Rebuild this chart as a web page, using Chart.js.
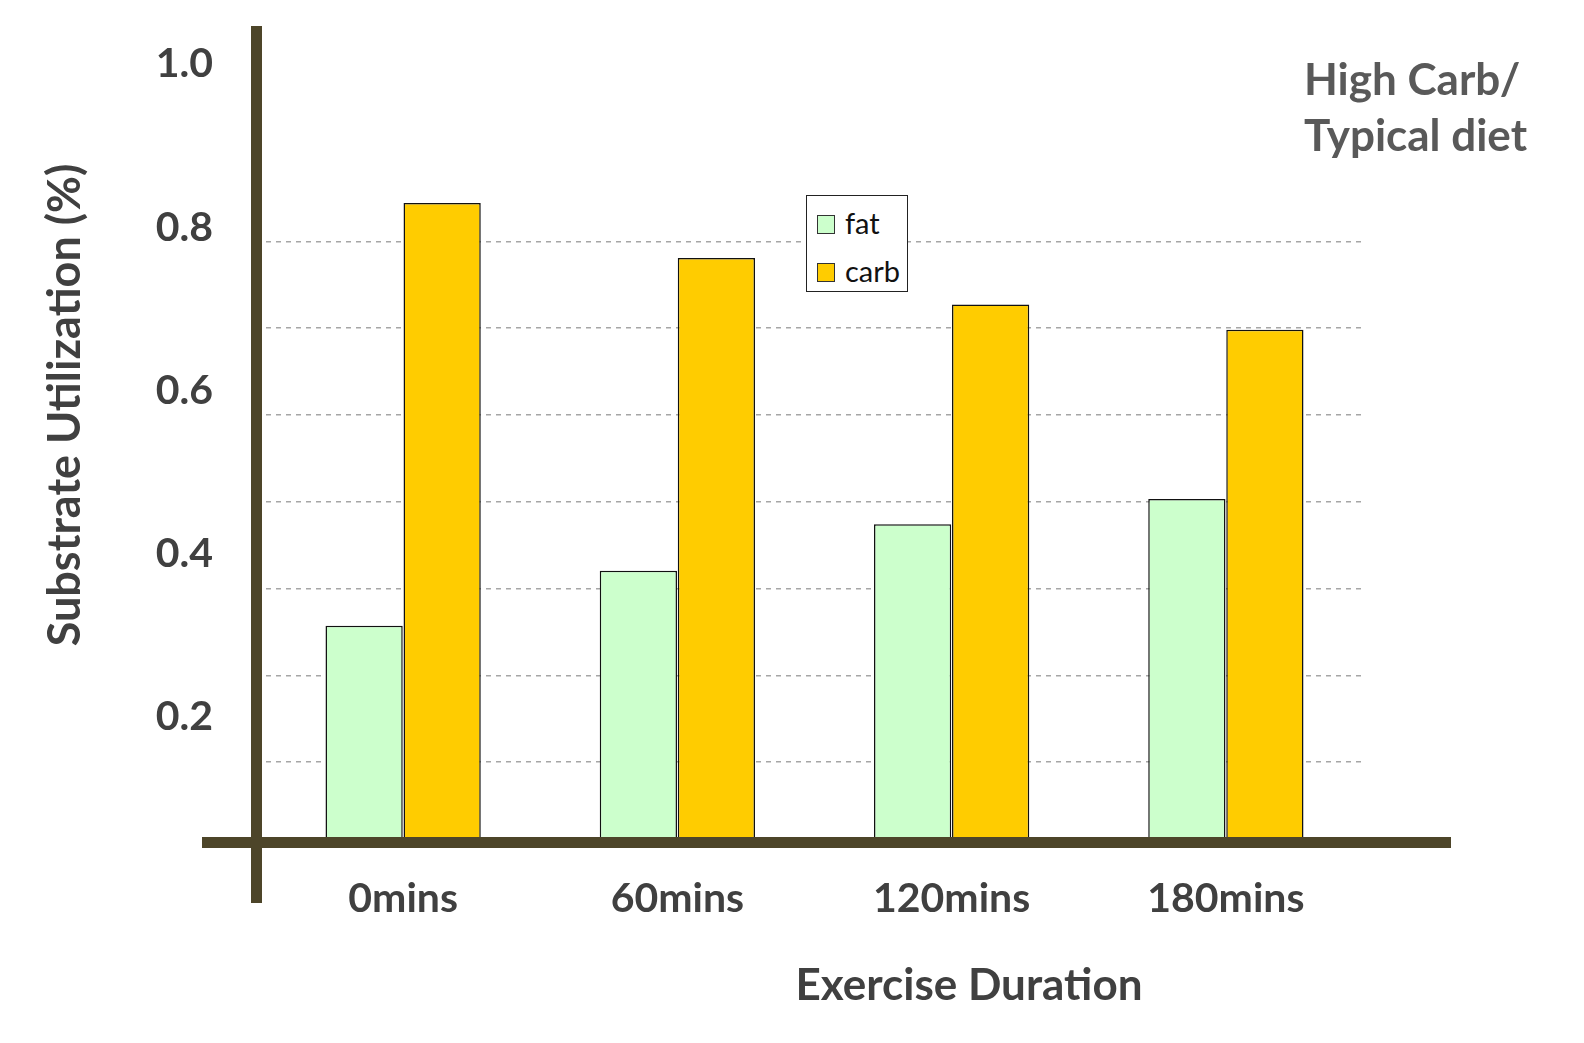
<!DOCTYPE html>
<html>
<head>
<meta charset="utf-8">
<script src="https://cdn.jsdelivr.net/npm/chart.js@4.4.1/dist/chart.umd.min.js"></script>
<style>
  body { margin: 0; background: #fff; }
  #wrap { position: relative; width: 1584px; height: 1043px; }
  #legend {
    position: absolute; left: 806px; top: 195px; width: 100px; height: 95px;
    border: 1px solid #222; background: #fff; font-family: Lato, sans-serif;
    font-size: 29px; color: #111;
  }
  #legend div { position: absolute; left: 10px; height: 34px; line-height: 34px; white-space: nowrap; }
  #legend span { display: inline-block; width: 16px; height: 17px; border: 1px solid #333;
    vertical-align: middle; margin-right: 10px; position: relative; top: -2px; }
</style>
</head>
<body>
<div id="wrap">
  <canvas id="myChart" width="1584" height="1043"></canvas>
  <div id="legend"></div>
</div>
<script>
const categories = ['0mins', '60mins', '120mins', '180mins'];
const fatValues = [0.25, 0.315, 0.37, 0.40];
const carbValues = [0.75, 0.685, 0.63, 0.60];
const labelTicks = [0.2, 0.4, 0.6, 0.8, 1.0];
const gridTicks = [0.1, 0.2, 0.3, 0.4, 0.5, 0.6, 0.7];

const axisColor = '#4d4529';
const textColor = '#404040';
const font = 'Lato, sans-serif';

// axis lines, titles and the side note
const decor = {
  id: 'decor',
  afterDatasetsDraw(chart) {
    const {ctx, chartArea: a} = chart;
    ctx.save();
    ctx.fillStyle = axisColor;
    ctx.fillRect(a.left - 64, a.bottom, a.right - a.left + 152, 11);
    ctx.fillRect(a.left - 15, a.top - 8, 11, a.bottom - a.top + 74);
    ctx.restore();
  },
  afterDraw(chart) {
    const {ctx, chartArea: a} = chart;
    ctx.save();
    ctx.fillStyle = textColor;
    ctx.font = 'bold 44px ' + font;
    ctx.textAlign = 'center';
    ctx.textBaseline = 'middle';
    ctx.fillText('Exercise Duration', a.left + 703, a.bottom + 149);
    ctx.translate(a.left - 201, a.top + 371);
    ctx.rotate(-Math.PI / 2);
    ctx.font = 'bold 45px ' + font;
    ctx.fillText('Substrate Utilization (%)', 0, 0);
    ctx.restore();

    ctx.save();
    ctx.fillStyle = '#595959';
    ctx.font = 'bold 44px ' + font;
    ctx.textAlign = 'left';
    ctx.textBaseline = 'middle';
    ctx.fillText('High Carb/', a.right - 59, a.top + 47);
    ctx.fillText('Typical diet', a.right - 59, a.top + 103);
    ctx.restore();
  }
};

const ctx = document.getElementById('myChart').getContext('2d');
const myChart = new Chart(ctx, {
  type: 'bar',
  data: {
    labels: categories,
    datasets: [
      { label: 'fat', data: fatValues, backgroundColor: '#ccffcc', borderColor: '#111', borderWidth: 1.5, yAxisID: 'y' },
      { label: 'carb', data: carbValues, backgroundColor: '#ffcc00', borderColor: '#111', borderWidth: 1.5, yAxisID: 'y' }
    ]
  },
  options: {
    responsive: false,
    animation: false,
    categoryPercentage: 0.569,
    barPercentage: 0.99,
    layout: { padding: { top: 34, right: 221, bottom: 0, left: 0 } },
    plugins: { legend: { display: false }, tooltip: { enabled: false } },
    scales: {
      x: {
        grid: { display: false },
        border: { display: false },
        ticks: { color: textColor, font: { family: font, size: 41, weight: 'bold' }, padding: 29 },
        afterFit: s => { s.height = 206; s.paddingLeft = 0; s.paddingRight = 0; }
      },
      y: { display: false, min: 0, max: 0.95 },
      yl: {
        position: 'left',
        min: 0.053, max: 1.0368,
        grid: { display: false, drawTicks: false },
        border: { display: false },
        afterBuildTicks: s => { s.ticks = labelTicks.map(v => ({ value: v })); },
        ticks: {
          color: textColor, padding: 53,
          font: { family: font, size: 41, weight: 'bold' },
          callback: v => Number(v).toFixed(1)
        },
        afterFit: s => { s.width = 266; s.paddingTop = 0; s.paddingBottom = 0; }
      },
      yg: {
        position: 'left',
        min: 0.0138, max: 0.9389,
        grid: { color: '#a6a6a6', lineWidth: 1.5, drawTicks: false },
        border: { display: false, dash: [5, 5] },
        afterBuildTicks: s => { s.ticks = gridTicks.map(v => ({ value: v })); },
        ticks: { display: false },
        afterFit: s => { s.width = 0; s.paddingTop = 0; s.paddingBottom = 0; }
      }
    }
  },
  plugins: [decor]
});

// legend built from the datasets
const legend = document.getElementById('legend');
myChart.data.datasets.forEach((ds, i) => {
  const item = document.createElement('div');
  item.style.top = (10 + i * 48) + 'px';
  item.innerHTML = '<span style="background:' + ds.backgroundColor + '"></span>' + ds.label;
  legend.appendChild(item);
});
</script>
</body>
</html>
